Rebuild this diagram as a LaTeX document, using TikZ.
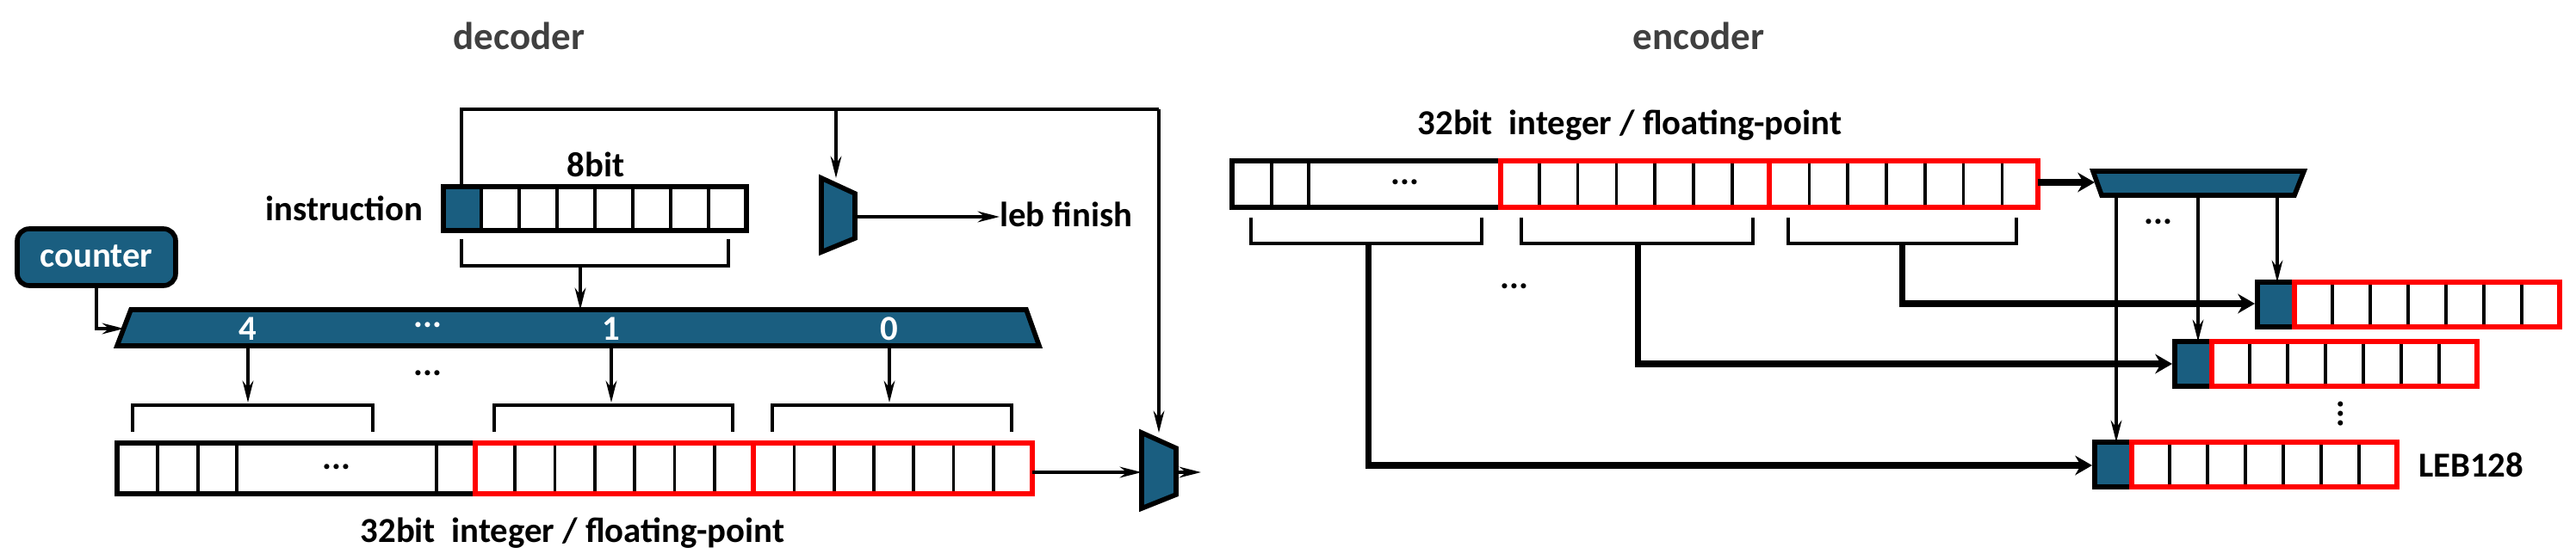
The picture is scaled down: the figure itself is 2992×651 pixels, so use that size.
\documentclass[tikz,border=0pt]{standalone}
\usepackage{fontspec}
\setmainfont{Carlito}
\usetikzlibrary{arrows.meta}
\definecolor{teal}{RGB}{26,94,128}
\definecolor{rd}{RGB}{255,0,0}
\begin{document}
\begin{tikzpicture}[x=0.025cm,y=-0.025cm,
  lbl/.style={font=\fontsize{29}{33}\selectfont\bfseries,inner sep=0pt},
  wl/.style={lbl,text=white},
  ln/.style={line width=2.6pt},
  cell/.style={line width=2.6pt},
  bx/.style={line width=4pt},
  arr/.style={line width=2.6pt,-{Stealth[length=18pt,width=9pt]}},
  tarr/.style={line width=5pt,-{Stealth[length=14pt,width=16pt]}},
  mux/.style={fill=teal,draw=black,line width=4pt,line join=miter}]
\useasboundingbox (0,0) rectangle (2992,651);
% titles
\node[lbl,text=black!75,font=\fontsize{32}{36}\selectfont\bfseries] (tdec) at (603,42) {decoder};
\node[lbl,text=black!75,font=\fontsize{32}{36}\selectfont\bfseries] (tenc) at (1973,42) {encoder};
% ---------------- decoder ----------------
\fill[teal] (515,217) rectangle (559,268);
\foreach \i in {1,...,7}{\draw[cell] ({515+44*\i},217) -- ({515+44*\i},268);}
\draw[bx] (515,217) rectangle (867,268);
\node[lbl] (ins) at (400,242) {instruction};
\node[lbl] (b8) at (692,191) {8bit};
\coordinate (insTop) at (536,217);
% counter
\draw[fill=teal,line width=4pt,rounded corners=10pt] (20,266) rectangle (204,332);
\node[wl] (cnt) at (112,298) {counter};
\coordinate (cntB) at (112,332);
% big decoder trapezoid
\draw[mux] (152,360) -- (1192,360) -- (1207,402) -- (136,402) -- cycle;
\coordinate (trL) at (144,382);
\node[wl] (d4) at (288,382) {4};
\node[wl] (dd) at (497,378) {...};
\node[wl] (d1) at (710,382) {1};
\node[wl] (d0) at (1033,382) {0};
\draw[arr] (cntB) |- (trL);
\draw[ln] (536,278) -- (536,309) -- (846,309) -- (846,278);
\coordinate (brI) at (674,309);
\coordinate (trT) at (674,360);
\draw[arr] (brI) -- (trT);
\foreach \x/\n in {288/a,710/b,1033/c}{
  \coordinate (s\n) at (\x,402);
  \coordinate (e\n) at (\x,468);
  \draw[arr] (s\n) -- (e\n);}
\node[lbl] (ddots) at (497,434) {...};
\draw[ln] (154,502) -- (154,471) -- (433,471) -- (433,502);
\draw[ln] (574,502) -- (574,471) -- (851,471) -- (851,502);
\draw[ln] (897,502) -- (897,471) -- (1175,471) -- (1175,502);
% bottom register
\foreach \x in {183,230,275,507}{\draw[cell] (\x,515) -- (\x,574);}
\draw[bx] (136,515) rectangle (552,574);
\foreach \i in {1,...,13}{\draw[cell] ({552+46.3*\i},515) -- ({552+46.3*\i},574);}
\draw[bx,rd] (552,515) rectangle (875,574);
\draw[bx,rd] (875,515) rectangle (1199,574);
\node[lbl] (rdots) at (391,543) {...};
\node[lbl] (d32) at (665,620) {32bit\ \ integer / floating-point};
% small mux
\draw[mux] (954,207) -- (993,225) -- (993,277) -- (954,293) -- cycle;
\coordinate (m1T) at (971,207);
\coordinate (m1O) at (993,252);
\node[lbl,anchor=west] (leb) at (1161,249) {leb finish};
\draw[arr] (m1O) -- (m1O -| leb.west);
% bottom mux
\draw[mux] (1326,503) -- (1366,521) -- (1366,575) -- (1326,591) -- cycle;
\coordinate (m2T) at (1346,503);
\coordinate (m2L) at (1326,549);
\coordinate (m2R) at (1366,549);
\coordinate (m2E) at (1395,549);
\coordinate (regR) at (1199,549);
\draw[arr] (regR) -- (m2L);
\draw[arr] (m2R) -- (m2E);
% feedback
\coordinate (tl) at (536,127);
\coordinate (tb) at (971,127);
\draw[ln] (insTop) -- (tl) -- (1346,127);
\draw[arr] (1346,127) -- (m2T);
\draw[arr] (tb) -- (m1T);
% ---------------- encoder ----------------
\node[lbl] (e32) at (1893,146) {32bit\ \ integer / floating-point};
\foreach \x in {1477,1520}{\draw[cell] (\x,187) -- (\x,241);}
\draw[bx] (1431,187) rectangle (1743,241);
\foreach \i in {1,...,13}{\draw[cell] ({1743+44.8*\i},187) -- ({1743+44.8*\i},241);}
\draw[bx,rd] (1743,187) rectangle (2055,241);
\draw[bx,rd] (2055,187) rectangle (2367,241);
\node[lbl] (edots) at (1632,212) {...};
\draw[mux] (2431,199) -- (2676,199) -- (2665,227) -- (2441,227) -- cycle;
\coordinate (eR) at (2367,212);
\coordinate (eT) at (2433,212);
\draw[tarr] (eR) -- (eT);
\node[lbl] (tdots) at (2507,258) {...};
\draw[ln] (1453,253) -- (1453,283) -- (1721,283) -- (1721,253);
\draw[ln] (1767,253) -- (1767,283) -- (2036,283) -- (2036,253);
\draw[ln] (2077,253) -- (2077,283) -- (2342,283) -- (2342,253);
\node[lbl] (bdots) at (1759,333) {...};
\foreach \n/\xo/\yo in {A/2622/328,B/2526/397,C/2433/514}{
  \fill[teal] (\xo,\yo) rectangle ({\xo+43},{\yo+52});
  \draw[bx] (\xo,\yo) rectangle ({\xo+43},{\yo+52});
  \foreach \i in {1,...,6}{\draw[cell] ({\xo+43+44*\i},\yo) -- ({\xo+43+44*\i},{\yo+52});}
  \draw[bx,rd] ({\xo+43},\yo) rectangle ({\xo+351},{\yo+52});
}
\coordinate (A) at (2619,353); \coordinate (B) at (2523,423); \coordinate (C) at (2430,541);
\draw[tarr] (2209,283) |- (A);
\draw[tarr] (1902,283) |- (B);
\draw[tarr] (1589,283) |- (C);
\coordinate (tA) at (2645,227); \coordinate (tB) at (2553,227); \coordinate (tC) at (2458,227);
\draw[arr] (tA) -- (2645,328);
\draw[arr] (tB) -- (2553,397);
\draw[arr] (tC) -- (2458,514);
\node[lbl,rotate=90] (vdots) at (2719,481) {...};
\node[lbl] (leb128) at (2870,541) {LEB128};
\end{tikzpicture}
\end{document}
